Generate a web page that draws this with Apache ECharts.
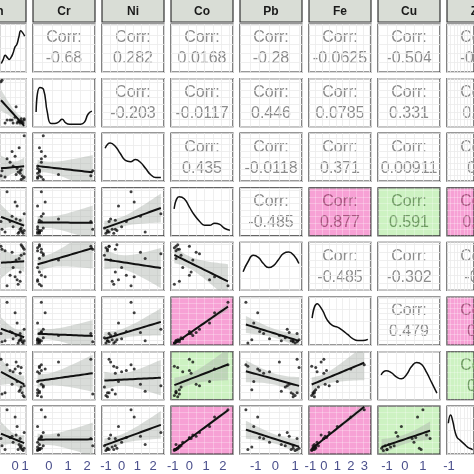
<!DOCTYPE html>
<html><head><meta charset="utf-8">
<script src="https://cdn.jsdelivr.net/npm/echarts@6/dist/echarts.min.js"></script>
<style>html,body{margin:0;padding:0;background:#fff}#main{width:474px;height:474px}</style>
</head><body><div id="main"></div>
<script>
// variables of the pairs matrix (first and last only partly visible)
var vars = ['Mn', 'Cr', 'Ni', 'Co', 'Pb', 'Fe', 'Cu', 'Zn'];
var axisMin = [-1.5, -0.84, -1.25, -1.1, -1.8, -1.1, -1.5, -1.3];
var axisMax = [1.08, 2.42, 2.7, 2.6, 1.35, 3.5, 1.95, 2.7];
var tickLabels = [[0, 1], [0, 1, 2], [-1, 0, 1, 2], [-1, 0, 1, 2], [-1, 0, 1], [-1, 0, 1, 2, 3], [-1, 0, 1], [-1]];

// standardised samples, one array per element
var Mn = [0.8, 0.7, 0.9, 0.5, 0.3, 0.6, -0.2, 0.4, -0.5, 0.1, 0.9, 0.2, -1.3, -1.4, 0.0, -0.8, 0.6, -0.3, -1.0, 0.5];
var Cr = [-0.6, -0.5, -0.4, -0.6, -0.5, -0.3, -0.6, -0.5, -0.4, 0.5, -0.3, -0.6, 2.3, 2.2, -0.2, -0.4, -0.5, -0.4, -0.6, -0.5];
var Ni = [-1.0, -0.8, -0.9, -0.6, -0.5, -1.1, 0.0, 1.5, 0.3, -0.7, 2.5, -0.2, -0.4, -0.8, 0.8, 0.6, -0.3, 1.2, -0.9, -0.4];
var Co = [-0.9, -0.8, -0.7, -0.6, -0.9, -0.5, -0.4, -0.8, 0.0, 0.2, 0.6, 1.2, -0.6, 0.0, 1.5, 2.3, -0.7, 0.4, -0.8, 0.1];
var Pb = [1.0, 1.1, 0.9, -1.2, -1.4, 0.5, -0.3, 0.3, -0.8, 0.2, 0.6, -1.1, 0.9, 1.1, -0.9, -1.5, 1.2, 0.7, 0.8, -0.6];
var Fe = [-0.9, -0.8, -0.7, -0.6, -0.9, -0.4, -0.5, -0.7, 0.2, -0.2, 0.4, 1.0, -0.8, 0.0, 2.0, 3.0, -0.6, 0.1, -0.7, 0.0];
var Cu = [-1.2, -1.0, -1.3, -0.8, 0.9, -0.6, 0.5, -0.9, 0.6, 1.2, -0.5, -0.2, -1.1, 1.4, 0.7, 1.0, 0.8, -0.4, -1.0, 0.4];
var Zn = [-1.0, -0.9, -0.8, -0.7, -0.9, -0.6, -0.3, -0.5, 0.1, 0.3, 0.5, 1.0, -0.6, 0.0, 1.8, 2.4, -0.8, 0.2, -0.9, 0.0];
var samples = [Mn, Cr, Ni, Co, Pb, Fe, Cu, Zn];

// printed correlations, upper triangle row by row
var corrMn = [-0.68, 0.282, 0.0168, -0.28, -0.0625, -0.504, -0.31];
var corrCr = [-0.203, -0.0117, 0.446, 0.0785, 0.331, 0.05];
var corrNi = [0.435, -0.0118, 0.371, 0.00911, 0.3];
var corrCo = [-0.485, 0.877, 0.591, 0.85];
var corrPb = [-0.485, -0.302, -0.4];
var corrFe = [0.479, 0.9];
var corrCu = [0.6];
var corrRows = [corrMn, corrCr, corrNi, corrCo, corrPb, corrFe, corrCu];

// density curves (relative height)
var densMn = [0.15, 0.25, 0.35, 0.3, 0.25, 0.3, 0.4, 0.55, 0.62, 0.8, 0.95, 0.9, 0.82];
var densCr = [0.3, 0.9, 0.85, 0.3, 0.02, 0.02, 0.05, 0.12, 0.03, 0.0, 0.0, 0.0, 0.0, 0.05, 0.25, 0.32];
var densNi = [0.75, 0.88, 0.8, 0.62, 0.45, 0.42, 0.47, 0.4, 0.25, 0.1, 0.03, 0.03];
var densCo = [0.6, 0.9, 0.85, 0.65, 0.45, 0.3, 0.2, 0.2, 0.25, 0.22, 0.12, 0.08];
var densPb = [0.4, 0.65, 0.8, 0.75, 0.6, 0.5, 0.55, 0.7, 0.85, 0.88, 0.8, 0.6];
var densFe = [0.6, 0.95, 0.8, 0.55, 0.42, 0.38, 0.3, 0.2, 0.1, 0.05, 0.05, 0.08];
var densCu = [0.55, 0.65, 0.6, 0.5, 0.45, 0.55, 0.75, 0.85, 0.8, 0.6, 0.35, 0.1];
var densZn = [0.7, 0.9, 0.75, 0.5, 0.35, 0.3, 0.25, 0.2, 0.15, 0.1, 0.08, 0.05];
var dens = [densMn, densCr, densNi, densCo, densPb, densFe, densCu, densZn];

var n = vars.length;
var colLeft = function (j) { return -36 + 69 * j; };
var rowTop = function (i) { return 24 + 54.6 * i; };
var PW = 62, PH = 48;

function corrOf(i, j) { var a = Math.min(i, j), b = Math.max(i, j); return corrRows[a][b - a - 1]; }
function fill(r) { return r > 0.7 ? '#f7a1d5' : (r > 0.5 ? '#cdf2c2' : '#ffffff'); }

var grids = [], xAxes = [], yAxes = [], series = [], graphics = [];
var gi = 0;
for (var i = 0; i < n; i++) {
  for (var j = 0; j < n; j++) {
    var r = i === j ? 0 : corrOf(i, j);
    grids.push({ left: colLeft(j), top: rowTop(i), width: PW, height: PH, show: true,
      backgroundColor: fill(r), borderColor: '#333', borderWidth: 1.2 });
    var gl = { show: true, lineStyle: { color: r > 0.5 ? 'rgba(255,255,255,0.35)' : '#ebebeb', width: 0.8 } };
    xAxes.push({ gridIndex: gi, type: 'value', min: axisMin[j], max: axisMax[j], interval: 0.5,
      axisLine: { show: false }, axisTick: { show: false }, splitLine: gl,
      axisLabel: { show: i === n - 1, customValues: tickLabels[j], color: '#4a4f8c', fontSize: 13, margin: 6, fontFamily: 'Liberation Sans' } });
    var ymin = i === j ? 0 : axisMin[i], ymax = i === j ? 1 : axisMax[i];
    yAxes.push({ gridIndex: gi, type: 'value', min: ymin, max: ymax, interval: i === j ? 0.25 : 0.5,
      axisLine: { show: false }, axisTick: { show: false }, axisLabel: { show: false }, splitLine: gl });
    if (i === j) {
      var d = dens[i], pts = [];
      for (var k = 0; k < d.length; k++) pts.push([axisMin[i] + (axisMax[i] - axisMin[i]) * (0.05 + 0.9 * k / (d.length - 1)), 0.05 + 0.85 * d[k]]);
      series.push({ type: 'line', xAxisIndex: gi, yAxisIndex: gi, data: pts, smooth: 0.5, symbol: 'none', lineStyle: { color: '#111', width: 1.5 } });
    } else if (i < j) {
      var cx = colLeft(j) + PW / 2, cy = rowTop(i) + PH / 2;
      var tc = r > 0.7 ? '#a8557f' : (r > 0.5 ? '#6f9a63' : '#8c8c8c');
      graphics.push({ type: 'text', x: cx, y: cy - 10, style: { text: 'Corr:', fill: tc, font: '16px Liberation Sans', align: 'center', verticalAlign: 'middle' } });
      graphics.push({ type: 'text', x: cx, y: cy + 11, style: { text: String(r), fill: tc, font: '16px Liberation Sans', align: 'center', verticalAlign: 'middle' } });
    } else {
      var xs = samples[j], ys = samples[i], m = xs.length;
      var mx = 0, my = 0; for (var k = 0; k < m; k++) { mx += xs[k]; my += ys[k]; } mx /= m; my /= m;
      var sxx = 0, sxy = 0; for (var k = 0; k < m; k++) { sxx += (xs[k] - mx) * (xs[k] - mx); sxy += (xs[k] - mx) * (ys[k] - my); }
      var b = sxy / sxx, a = my - b * mx, sse = 0;
      for (var k = 0; k < m; k++) { var e = ys[k] - a - b * xs[k]; sse += e * e; }
      var s = Math.sqrt(sse / (m - 2));
      var lo = Math.min.apply(null, xs), hi = Math.max.apply(null, xs);
      var fit = [], band = [];
      for (var k = 0; k <= 20; k++) {
        var x = lo + (hi - lo) * k / 20, yh = a + b * x;
        var se = 2.1 * s * Math.sqrt(1 / m + (x - mx) * (x - mx) / sxx);
        fit.push([x, yh]); band.push([x, yh - se, yh + se]);
      }
      (function (bd) {
        series.push({ type: 'custom', xAxisIndex: gi, yAxisIndex: gi, data: bd, silent: true, clip: true,
          encode: { x: 0, y: [1, 2] },
          renderItem: function (params, api) {
            if (params.dataIndex !== 0) return null;
            var upper = [], lower = [];
            for (var k = 0; k < bd.length; k++) {
              upper.push(api.coord([bd[k][0], bd[k][2]]));
              lower.unshift(api.coord([bd[k][0], bd[k][1]]));
            }
            return { type: 'polygon', shape: { points: upper.concat(lower) }, style: { fill: 'rgba(170,178,170,0.45)' } };
          } });
      })(band);
      series.push({ type: 'line', xAxisIndex: gi, yAxisIndex: gi, data: fit, symbol: 'none', lineStyle: { color: '#111', width: 2 } });
      var pts2 = []; for (var k = 0; k < m; k++) pts2.push([xs[k], ys[k]]);
      series.push({ type: 'scatter', xAxisIndex: gi, yAxisIndex: gi, data: pts2, symbolSize: 3, itemStyle: { color: '#111' } });
    }
    gi++;
  }
}
// column strips
for (var j = 0; j < n; j++) {
  graphics.push({ type: 'rect', shape: { x: colLeft(j), y: -2, width: PW, height: 24 }, style: { fill: '#d9ddd6', stroke: '#333', lineWidth: 1.2 } });
  graphics.push({ type: 'text', x: colLeft(j) + PW / 2, y: 12, style: { text: vars[j], fill: '#1a1a1a', font: 'bold 12px Liberation Sans', align: 'center', verticalAlign: 'middle' } });
}

var myChart = echarts.init(document.getElementById('main'));
myChart.setOption({ animation: false, grid: grids, xAxis: xAxes, yAxis: yAxes, series: series, graphic: graphics });
</script></body></html>
